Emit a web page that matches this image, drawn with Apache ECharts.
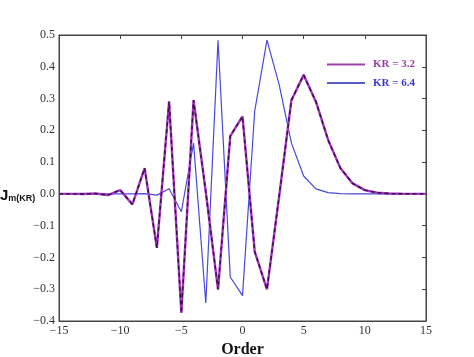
<!DOCTYPE html>
<html>
<head>
<meta charset="utf-8">
<script src="https://cdn.jsdelivr.net/npm/echarts@6/dist/echarts.min.js"></script>
<style>html,body{margin:0;padding:0;background:#fff;}#c{width:474px;height:357px;}</style>
</head>
<body>
<div id="c"></div>
<script>
var orders = [-15,-14,-13,-12,-11,-10,-9,-8,-7,-6,-5,-4,-3,-2,-1,0,1,2,3,4,5,6,7,8,9,10,11,12,13,14,15];
var kr32 = [0.0000,0.0001,-0.0003,0.0011,-0.0037,0.0118,-0.0330,0.0811,-0.1698,0.2903,-0.3745,0.2949,0.0059,-0.3004,0.1818,0.2436,-0.1818,-0.3004,-0.0059,0.2949,0.3745,0.2903,0.1698,0.0811,0.0330,0.0118,0.0037,0.0011,0.0003,0.0001,0.0000];
var kr64 = [0,0,0,0,0,0,-0.0002,0.0008,-0.0038,0.0160,-0.0562,0.1597,-0.3431,0.4836,-0.2614,-0.3202,0.2614,0.4836,0.3431,0.1597,0.0562,0.0160,0.0038,0.0008,0.0002,0,0,0,0,0,0];
var xTicks = [-15,-10,-5,0,5,10,15];
var yTicks = [-0.4,-0.3,-0.2,-0.1,0.0,0.1,0.2,0.3,0.4,0.5];
var seriesNames = ['KR = 3.2','KR = 6.4'];
var yTitle = {main:'J', sub:'m(KR)'};

function pairs(vals){ return orders.map(function(o,i){ return [o, vals[i]]; }); }
function fmt(v, d){ var s = v.toFixed(d); if (Math.abs(v) < 1e-9) s = (0).toFixed(d); return s.replace('-', '\u2212'); }

var serif = '"Liberation Serif", "DejaVu Serif", serif';
var sans = '"Liberation Sans", Arial, sans-serif';
var chart = echarts.init(document.getElementById('c'), null, {renderer:'canvas'});
chart.setOption({
  animation:false,
  backgroundColor:'#fff',
  grid:{left:59, right:48, top:35, bottom:36, show:true, borderColor:'#444', borderWidth:1, containLabel:false, outerBoundsMode:'none'},
  graphic:[{
    type:'text', x:0, y:196,
    style:{
      text:'{a|' + yTitle.main + '}{b|' + yTitle.sub + '}',
      verticalAlign:'middle', align:'left',
      rich:{
        a:{fontFamily:sans, fontWeight:'bold', fontSize:15, fill:'#111', verticalAlign:'middle'},
        b:{fontFamily:sans, fontWeight:'bold', fontSize:9, fill:'#111', verticalAlign:'bottom'}
      }
    }
  }],
  legend:{
    orient:'vertical', left:327, top:58, padding:0, itemGap:5.6, itemWidth:38, itemHeight:2, icon:'rect',
    textStyle:{fontFamily:serif, fontWeight:'bold', fontSize:11, lineHeight:13, padding:[0,0,0,3]},
    data:[
      {name:seriesNames[0], itemStyle:{color:'#9a45aa'}, textStyle:{color:'#9a3ea6'}},
      {name:seriesNames[1], itemStyle:{color:'#5a5ac4'}, textStyle:{color:'#3a3ad0'}}
    ]
  },
  xAxis:[{
    type:'value', min:xTicks[0], max:xTicks[xTicks.length-1], interval:5,
    axisLine:{show:true, onZero:false, lineStyle:{color:'#444'}},
    axisTick:{show:false},
    splitLine:{show:false},
    axisLabel:{color:'#333', fontFamily:serif, fontSize:12, margin:4, formatter:function(v){return fmt(v,0);}},
    name:'Order', nameLocation:'middle', nameGap:14,
    nameTextStyle:{fontFamily:serif, fontWeight:'bold', fontSize:16, color:'#111'}
  },{
    type:'value', position:'top', min:xTicks[0], max:xTicks[xTicks.length-1], interval:5,
    axisLine:{show:true, onZero:false, lineStyle:{color:'#444'}},
    axisTick:{show:true, inside:true, length:4, lineStyle:{color:'#444'}},
    axisLabel:{show:false}, splitLine:{show:false}
  }],
  yAxis:[{
    type:'value', min:yTicks[0], max:yTicks[yTicks.length-1], interval:0.1,
    axisLine:{show:true, onZero:false, lineStyle:{color:'#444'}},
    axisTick:{show:false},
    splitLine:{show:false},
    axisLabel:{color:'#333', fontFamily:serif, fontSize:12, margin:4, formatter:function(v){return fmt(v,1);}}
  },{
    type:'value', position:'right', min:yTicks[0], max:yTicks[yTicks.length-1], interval:0.1,
    axisLine:{show:true, onZero:false, lineStyle:{color:'#444'}},
    axisTick:{show:true, inside:true, length:4, lineStyle:{color:'#444'}},
    axisLabel:{show:false}, splitLine:{show:false}
  }],
  series:[
    {name:seriesNames[1], type:'line', data:pairs(kr64), showSymbol:false, symbol:'none',
     lineStyle:{color:'#4848e0', width:1.2}, itemStyle:{color:'#5a5ac4'}, z:2},
    {name:seriesNames[0], type:'line', data:pairs(kr32), showSymbol:false, symbol:'none',
     lineStyle:{color:'#a236c0', width:2.4}, itemStyle:{color:'#9a45aa'}, z:3},
    {name:'overlay', type:'line', data:pairs(kr32), showSymbol:false, symbol:'none',
     lineStyle:{color:'#3a0c42', width:1.4, type:[4,3]}, z:4}
  ]
});
</script>
</body>
</html>
